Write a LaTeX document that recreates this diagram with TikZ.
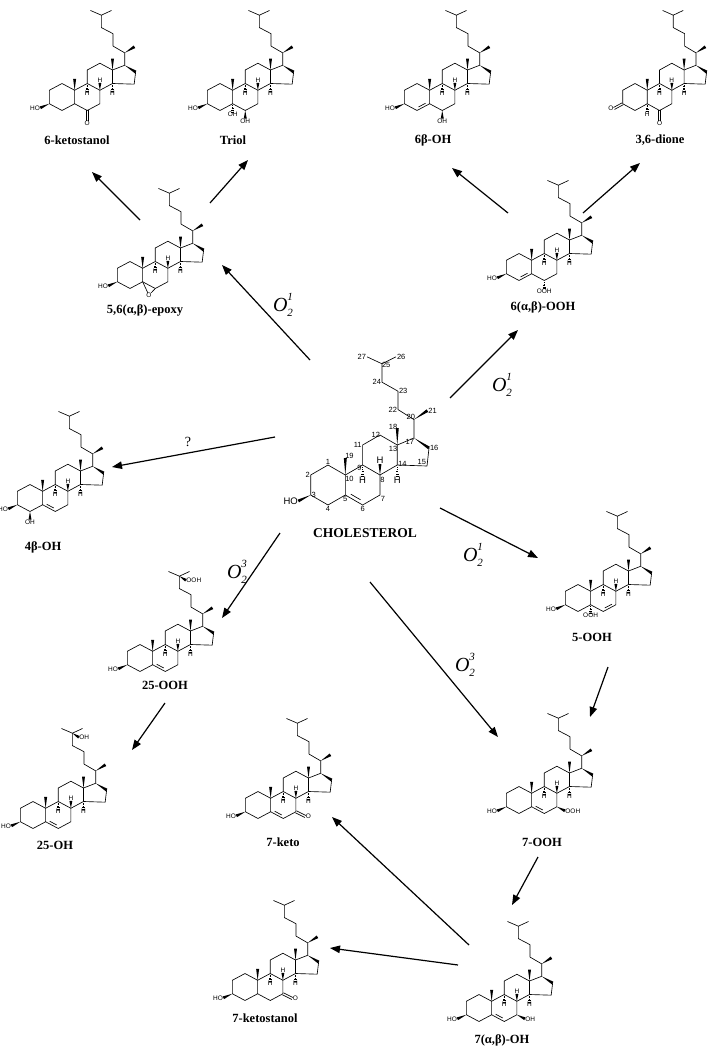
\documentclass[tikz,border=0pt]{standalone}
\usepackage{fontspec}
\setmainfont{Liberation Serif}
\newfontfamily\sansf{Liberation Sans}
\usetikzlibrary{calc,arrows.meta}
\newcommand\wdg[2]{\fill (#1) -- ($(#2)!1.5pt!90:(#1)$) -- ($(#2)!1.5pt!-90:(#1)$) -- cycle;}
\newcommand\hsh[2]{\foreach \t in {0.2,0.4,0.6,0.8,1.0}{\pgfmathsetmacro\ww{\t*1.6}\draw[line width=0.45pt] ($(#1)!\t!(#2)!\ww pt!90:(#1)$) -- ($(#1)!\t!(#2)!\ww pt!-90:(#1)$);}}
\newcommand\dbx[2]{\draw[bond] ($(#1)!1.1pt!90:(#2)$) -- ($(#2)!1.1pt!-90:(#1)$); \draw[bond] ($(#1)!1.1pt!-90:(#2)$) -- ($(#2)!1.1pt!90:(#1)$);}
\newcommand\dbr[3]{\draw[bond] ($(#1)!0.15!(#2)!0.2!(#3)$) -- ($(#2)!0.15!(#1)!0.2!(#3)$);}
\newcommand\mol[6]{%
\begin{scope}[shift={(#2,#3)},x={(#6*#4pt,0pt)},y={(0pt,#4pt)}]
\def\atomfont{\fontsize{#5}{#5}\sansf\selectfont}
\coordinate (#1Acen) at (0,0); \coordinate (#1Bcen) at (1.732,0);
\coordinate (#1C1) at (0,1); \coordinate (#1C2) at (-0.866,0.5);
\coordinate (#1C3) at (-0.866,-0.5); \coordinate (#1C4) at (0,-1);
\coordinate (#1C5) at (0.866,-0.5); \coordinate (#1C10) at (0.866,0.5);
\coordinate (#1C6) at (1.732,-1); \coordinate (#1C7) at (2.598,-0.5);
\coordinate (#1C8) at (2.598,0.5); \coordinate (#1C9) at (1.732,1);
\coordinate (#1C11) at (1.732,2); \coordinate (#1C12) at (2.598,2.5);
\coordinate (#1C13) at (3.464,2); \coordinate (#1C14) at (3.464,1);
\coordinate (#1C15) at (4.95,0.95); \coordinate (#1C16) at (5.05,1.85);
\coordinate (#1C17) at (4.3,2.35);
\coordinate (#1C20) at ($(#1C17)+(0,0.92)$);
\coordinate (#1C21) at ($(#1C20)+(0.67,0.45)$);
\coordinate (#1C22) at ($(#1C20)+(-0.8,0.5)$);
\coordinate (#1C23) at ($(#1C22)+(0,0.92)$);
\coordinate (#1C24) at ($(#1C23)+(-0.8,0.45)$);
\coordinate (#1C25) at ($(#1C24)+(0,0.92)$);
\coordinate (#1C26) at ($(#1C25)+(0.7,0.35)$);
\coordinate (#1C27) at ($(#1C25)+(-0.75,0.35)$);
\coordinate (#1C18) at ($(#1C13)+(0,0.85)$);
\coordinate (#1C19) at ($(#1C10)+(0,0.85)$);
\coordinate (#1H8) at ($(#1C8)+(0,0.55)$);
\coordinate (#1H9) at ($(#1C9)+(0,-0.55)$);
\coordinate (#1H14) at ($(#1C14)+(0,-0.55)$);
\draw[bond] (#1C1)--(#1C2)--(#1C3)--(#1C4)--(#1C5)--(#1C10)--cycle;
\draw[bond] (#1C5)--(#1C6)--(#1C7)--(#1C8)--(#1C9)--(#1C10);
\draw[bond] (#1C9)--(#1C11)--(#1C12)--(#1C13)--(#1C14)--(#1C8);
\draw[bond] (#1C13)--(#1C17) (#1C14)--(#1C15)--(#1C16);
\draw[bond] (#1C17)--(#1C20)--(#1C22)--(#1C23)--(#1C24)--(#1C25)--(#1C26) (#1C25)--(#1C27);
\wdg{#1C17}{#1C16} \wdg{#1C20}{#1C21} \wdg{#1C10}{#1C19} \wdg{#1C13}{#1C18} \wdg{#1C8}{#1H8}
\hsh{#1C9}{#1H9} \hsh{#1C14}{#1H14}
\node[font=\atomfont,inner sep=0.3pt,anchor=south] at (#1H8) {H};
\node[font=\atomfont,inner sep=0.3pt,anchor=north] at (#1H9) {H};
\node[font=\atomfont,inner sep=0.3pt,anchor=north] at (#1H14) {H};
}
\newcommand\emol{\end{scope}}
\newcommand\HOiii[1]{\coordinate (#1O3) at ($(#1C3)+(-0.62,-0.3)$); \wdg{#1C3}{#1O3} \node[font=\atomfont,inner sep=0.3pt,anchor=east] at (#1O3) {HO};}
\tikzset{
 bond/.style={line width=0.65pt,line join=round},
 arr/.style={line width=1.2pt,-{Triangle[length=10pt,width=7.5pt]}},
 lbl/.style={font=\fontsize{12.5}{12.5}\bfseries\selectfont,inner sep=0pt},
 oxl/.style={font=\fontsize{20}{20}\itshape\selectfont,inner sep=0pt},
 num/.style={font=\fontsize{7.5}{7.5}\sansf\selectfont,inner sep=0.8pt}
}
\newcommand\Otwo[1]{O\rlap{\raisebox{1.15ex}{\fontsize{11}{11}\selectfont #1}}\raisebox{-0.55ex}{\fontsize{11}{11}\selectfont 2}}
\begin{document}
\begin{tikzpicture}[x=1pt,y=-1pt]
\useasboundingbox (0,0) rectangle (710,1048);
% 1 6-ketostanol
\mol{a}{62}{97}{13.5}{6.5}{1.08}
\HOiii{a}
\coordinate (aO6) at ($(aC6)+(0,-0.75)$); \dbx{aC6}{aO6}
\node[font=\atomfont,inner sep=0.3pt,anchor=north] at (aO6) {O};
\emol
\node[lbl] (l1) at (77,140) {6-ketostanol};
% 2 Triol
\mol{b}{220}{97}{13.5}{6.5}{1.08}
\HOiii{b}
\coordinate (bO5) at ($(bC5)+(0,-0.6)$); \hsh{bC5}{bO5}
\coordinate (bO6) at ($(bC6)+(0,-0.6)$); \wdg{bC6}{bO6}
\node[font=\atomfont,inner sep=0.3pt,anchor=north] at (bO5) {OH};
\node[font=\atomfont,inner sep=0.3pt,anchor=north] at (bO6) {OH};
\emol
\node[lbl] (l2) at (233,140) {Triol};
% 3 6beta-OH
\mol{c}{417}{97}{13.5}{6.5}{1.08}
\HOiii{c} \dbr{cC4}{cC5}{cAcen}
\coordinate (cO6) at ($(cC6)+(0,-0.6)$); \wdg{cC6}{cO6}
\node[font=\atomfont,inner sep=0.3pt,anchor=north] at (cO6) {OH};
\emol
\node[lbl] (l3) at (433,140) {6β-OH};
% 4 3,6-dione
\mol{d}{635}{97}{13.5}{6.5}{1.05}
\coordinate (dO3) at ($(dC3)+(-0.62,-0.35)$); \dbx{dC3}{dO3}
\node[font=\atomfont,inner sep=0.3pt,anchor=east] at (dO3) {O};
\coordinate (dH5) at ($(dC5)+(0,-0.55)$); \hsh{dC5}{dH5}
\node[font=\atomfont,inner sep=0.3pt,anchor=north] at (dH5) {H};
\coordinate (dO6) at ($(dC6)+(0,-0.75)$); \dbx{dC6}{dO6}
\node[font=\atomfont,inner sep=0.3pt,anchor=north] at (dO6) {O};
\emol
\node[lbl] (l4) at (660,140) {3,6-dione};
% 5 epoxy
\mol{e}{130}{275}{13.5}{6.5}{1.08}
\HOiii{e}
\coordinate (eO) at ($(eC5)!0.5!(eC6)+(0,-0.75)$);
\draw[bond] (eC5)--(eO)--(eC6);
\node[font=\atomfont,fill=white,inner sep=0.3pt] at (eO) {O};
\emol
\node[lbl] (l5) at (145,310) {5,6(α,β)-epoxy};
% 6 6-OOH
\mol{f}{519}{267}{13.5}{6.5}{1.08}
\HOiii{f} \dbr{fC4}{fC5}{fAcen}
\coordinate (fO6) at ($(fC6)+(0,-0.6)$); \hsh{fC6}{fO6}
\node[font=\atomfont,inner sep=0.3pt,anchor=north] at (fO6) {OOH};
\emol
\node[lbl] (l6) at (543,307) {6(α,β)-OOH};
% 7 cholesterol
\mol{g}{328}{485}{20}{9.5}{1}
\HOiii{g} \dbr{gC5}{gC6}{gBcen}
\node[num,above] at (gC1) {1};
\node[num,left] at (gC2) {2};
\node[num,right] at (gC3) {3};
\node[num,below] at (gC4) {4};
\node[num,below] at (gC5) {5};
\node[num,below] at (gC6) {6};
\node[num,below right] at (gC7) {7};
\node[num,below] at ($(gC8)+(0.12,-0.05)$) {8};
\node[num,left] at ($(gC9)+(0,-0.15)$) {9};
\node[num,below right] at ($(gC10)+(-0.05,0)$) {10};
\node[num,left] at (gC11) {11};
\node[num,above left] at ($(gC12)+(0.05,-0.15)$) {12};
\node[num,below left] at ($(gC13)+(0.05,0)$) {13};
\node[num,right] at ($(gC14)+(0,0.05)$) {14};
\node[num,above left] at (gC15) {15};
\node[num,right] at (gC16) {16};
\node[num,below left] at ($(gC17)+(0.05,0)$) {17};
\node[num,left] at ($(gC18)+(0.05,0.05)$) {18};
\node[num,right] at ($(gC19)+(-0.05,0.1)$) {19};
\node[num,above left] at ($(gC20)+(0.1,-0.05)$) {20};
\node[num,right] at (gC21) {21};
\node[num,left] at (gC22) {22};
\node[num,right] at (gC23) {23};
\node[num,left] at (gC24) {24};
\node[num,below right] at ($(gC25)+(-0.05,0.15)$) {25};
\node[num,right] at (gC26) {26};
\node[num,left] at (gC27) {27};
\emol
\node[font=\fontsize{13.5}{13.5}\bfseries\selectfont,inner sep=0pt] (l7) at (365,533) {CHOLESTEROL};
% 8 4beta-OH
\mol{h}{30}{498}{13.5}{6.5}{1.08}
\HOiii{h} \dbr{hC5}{hC6}{hBcen}
\coordinate (hO4) at ($(hC4)+(0,-0.6)$); \wdg{hC4}{hO4}
\node[font=\atomfont,inner sep=0.3pt,anchor=north] at (hO4) {OH};
\emol
\node[lbl] (l8) at (43,547) {4β-OH};
% 9 25-OOH
\mol{i}{140}{658}{13.5}{6.5}{1.08}
\HOiii{i} \dbr{iC5}{iC6}{iBcen}
\coordinate (iO25) at ($(iC25)+(0.45,-0.3)$); \wdg{iC25}{iO25}
\node[font=\atomfont,inner sep=0.3pt,anchor=west] at (iO25) {OOH};
\emol
\node[lbl] (l9) at (165,685) {25-OOH};
% 10 25-OH
\mol{j}{33}{815}{13.5}{6.5}{1.08}
\HOiii{j} \dbr{jC5}{jC6}{jBcen}
\coordinate (jO25) at ($(jC25)+(0.45,-0.3)$); \wdg{jC25}{jO25}
\node[font=\atomfont,inner sep=0.3pt,anchor=west] at (jO25) {OH};
\emol
\node[lbl] (l10) at (55,845) {25-OH};
% 11 5-OOH
\mol{k}{578}{598}{13.5}{6.5}{1.08}
\HOiii{k} \dbr{kC6}{kC7}{kBcen}
\coordinate (kO5) at ($(kC5)+(0,-0.6)$); \hsh{kC5}{kO5}
\node[font=\atomfont,inner sep=0.3pt,anchor=north] at (kO5) {OOH};
\emol
\node[lbl] (l11) at (592,637) {5-OOH};
% 12 7-OOH
\mol{m}{519}{800}{13.5}{6.5}{1.08}
\HOiii{m} \dbr{mC5}{mC6}{mBcen}
\coordinate (mO7) at ($(mC7)+(0.55,-0.3)$); \wdg{mC7}{mO7}
\node[font=\atomfont,inner sep=0.3pt,anchor=west] at (mO7) {OOH};
\emol
\node[lbl] (l12) at (542,842) {7-OOH};
% 13 7-keto
\mol{n}{258}{805}{13.5}{6.5}{1.08}
\HOiii{n} \dbr{nC5}{nC6}{nBcen}
\coordinate (nO7) at ($(nC7)+(0.65,-0.35)$); \dbx{nC7}{nO7}
\node[font=\atomfont,inner sep=0.3pt,anchor=west] at (nO7) {O};
\emol
\node[lbl] (l13) at (283,842) {7-keto};
% 14 7-ketostanol
\mol{p}{245}{987}{13.5}{6.5}{1.08}
\HOiii{p}
\coordinate (pO7) at ($(pC7)+(0.65,-0.35)$); \dbx{pC7}{pO7}
\node[font=\atomfont,inner sep=0.3pt,anchor=west] at (pO7) {O};
\emol
\node[lbl] (l14) at (265,1018) {7-ketostanol};
% 15 7(a,b)-OH
\mol{q}{479}{1008}{13.5}{6.5}{1.08}
\HOiii{q} \dbr{qC5}{qC6}{qBcen}
\coordinate (qO7) at ($(qC7)+(0.55,-0.3)$); \wdg{qC7}{qO7}
\node[font=\atomfont,inner sep=0.3pt,anchor=west] at (qO7) {OH};
\emol
\node[lbl] (l15) at (502,1040) {7(α,β)-OH};
% arrows
\coordinate (t1) at (140,220); \coordinate (h1) at (92,172);
\coordinate (t2) at (210,203); \coordinate (h2) at (248,160);
\coordinate (t3) at (508,213); \coordinate (h3) at (452,168);
\coordinate (t4) at (583,213); \coordinate (h4) at (640,163);
\coordinate (t5) at (310,360); \coordinate (h5) at (222,265);
\coordinate (t6) at (450,398); \coordinate (h6) at (518,330);
\coordinate (t7) at (275,437); \coordinate (h7) at (112,467);
\coordinate (t8) at (280,533); \coordinate (h8) at (222,618);
\coordinate (t9) at (440,508); \coordinate (h9) at (538,558);
\coordinate (t10) at (370,582); \coordinate (h10) at (498,737);
\coordinate (t11) at (608,667); \coordinate (h11) at (590,717);
\coordinate (t12) at (165,703); \coordinate (h12) at (132,750);
\coordinate (t13) at (538,857); \coordinate (h13) at (512,905);
\coordinate (t14) at (469,945); \coordinate (h14) at (332,817);
\coordinate (t15) at (458,965); \coordinate (h15) at (330,948);
\foreach \i in {1,...,15}{\draw[arr] (t\i) -- (h\i);}
\node[oxl] (o5) at (283,305) {\Otwo{1}};
\node[oxl] (o6) at (502,385) {\Otwo{1}};
\node[font=\fontsize{14}{14}\selectfont] (qm) at (188,442) {?};
\node[oxl] (o8) at (237,572) {\Otwo{3}};
\node[oxl] (o9) at (473,555) {\Otwo{1}};
\node[oxl] (o10) at (465,665) {\Otwo{3}};
\end{tikzpicture}
\end{document}
